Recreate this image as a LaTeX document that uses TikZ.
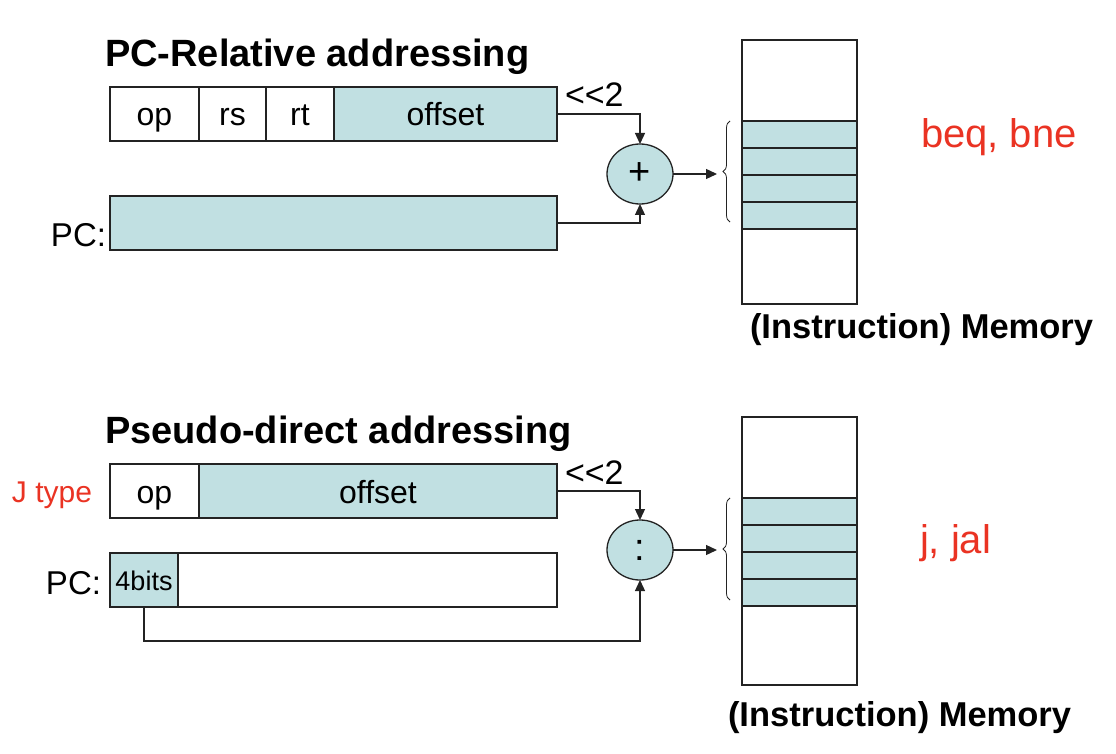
\documentclass[tikz,border=0pt]{standalone}
\usepackage{fontspec}
\setmainfont{Liberation Sans}
\usetikzlibrary{arrows.meta,decorations.pathreplacing,shapes.geometric}
\definecolor{cy}{RGB}{193,224,226}
\definecolor{rd}{RGB}{234,51,35}
\definecolor{ln}{RGB}{35,35,35}
\begin{document}
\begin{tikzpicture}[x=1pt,y=-1pt,
  every node/.style={inner sep=0pt,outer sep=0pt},
  fld/.style={draw=ln, line width=1.3pt, anchor=north west, minimum height=54pt, text height=24pt, text depth=0pt, font=\fontsize{32}{32}\selectfont},
  shfld/.style={fld, fill=cy},
  ttl/.style={anchor=base west, font=\bfseries\fontsize{38}{38}\selectfont},
  pclbl/.style={anchor=base east, font=\fontsize{33}{33}\selectfont},
  shl/.style={anchor=base west, font=\fontsize{34}{34}\selectfont},
  memlbl/.style={anchor=base west, font=\bfseries\fontsize{34.5}{34.5}\selectfont},
  inst/.style={anchor=base west, text=rd, font=\fontsize{40}{40}\selectfont},
  opnode/.style={ellipse, draw=ln, line width=1.3pt, fill=cy, minimum width=66pt, minimum height=60pt, font=\fontsize{38}{38}\selectfont},
  arr/.style={draw=ln, line width=1.3pt, -{Triangle[length=11pt,width=10pt]}},
  mem/.style={draw=ln, line width=1.3pt, anchor=north west, minimum width=115pt},
  memrow/.style={mem, fill=cy, minimum height=27pt},
  brc/.style={draw=ln, line width=0.8pt, decorate, decoration={brace, amplitude=7pt}}
]
\useasboundingbox (0,0) rectangle (1116,754);

% ---------- PC-relative ----------
\node[ttl] (t1) at (105,67) {PC-Relative addressing};
\node[fld, minimum width=89pt] (op1) at (110,87) {op};
\node[fld, minimum width=67pt] (rs1) at (199,87) {rs};
\node[fld, minimum width=68pt] (rt1) at (266,87) {rt};
\node[shfld, minimum width=223pt] (off1) at (334,87) {offset};
\node[pclbl] (pcl1) at (106,246) {PC:};
\node[shfld, minimum width=447pt] (pc1) at (110,196) {};
\node[shl] (sh1) at (565,107) {{<}{<}2};
\node[opnode] (add) at (640,174) {+};
\draw[arr] (off1.east) -| (add.north);
\draw[arr] (pc1.east) -| (add.south);
\coordinate (o1) at (717,174);
\draw[arr] (add.east) -- (o1);
\node[mem, minimum height=264pt] (mem1) at (742,40) {};
\node[memrow] (r11) at (742,121) {};
\node[memrow] (r12) at (742,148) {};
\node[memrow] (r13) at (742,175) {};
\node[memrow] (r14) at (742,202) {};
\coordinate (b1a) at (730,222);
\coordinate (b1b) at (730,121);
\draw[brc] (b1a) -- (b1b);
\node[memlbl] (ml1) at (750,338) {(Instruction) Memory};
\node[inst] (i1) at (921,148) {beq, bne};

% ---------- Pseudo-direct ----------
\node[ttl] (t2) at (105,443) {Pseudo-direct addressing};
\node[anchor=base west, text=rd, font=\fontsize{30}{30}\selectfont] (jt) at (12,502) {J type};
\node[fld, minimum width=89pt] (op2) at (110,464) {op};
\node[shfld, minimum width=358pt] (off2) at (199,464) {offset};
\node[pclbl] (pcl2) at (101,594) {PC:};
\node[shfld, minimum width=68pt, text height=20pt, font=\fontsize{27}{27}\selectfont] (bits) at (110,553) {4bits};
\node[fld, minimum width=379pt] (rest2) at (178,553) {};
\node[shl] (sh2) at (565,484) {{<}{<}2};
\node[opnode] (cat) at (640,550) {:};
\draw[arr] (off2.east) -| (cat.north);
\coordinate (lw) at (144,641);
\draw[arr] (bits.south) -- (lw) -| (cat.south);
\coordinate (o2) at (717,550);
\draw[arr] (cat.east) -- (o2);
\node[mem, minimum height=268pt] (mem2) at (742,417) {};
\node[memrow] (r21) at (742,498) {};
\node[memrow] (r22) at (742,525) {};
\node[memrow] (r23) at (742,552) {};
\node[memrow] (r24) at (742,579) {};
\coordinate (b2a) at (730,600);
\coordinate (b2b) at (730,498);
\draw[brc] (b2a) -- (b2b);
\node[memlbl] (ml2) at (728,726) {(Instruction) Memory};
\node[inst] (i2) at (920,553) {j, jal};
\end{tikzpicture}
\end{document}
